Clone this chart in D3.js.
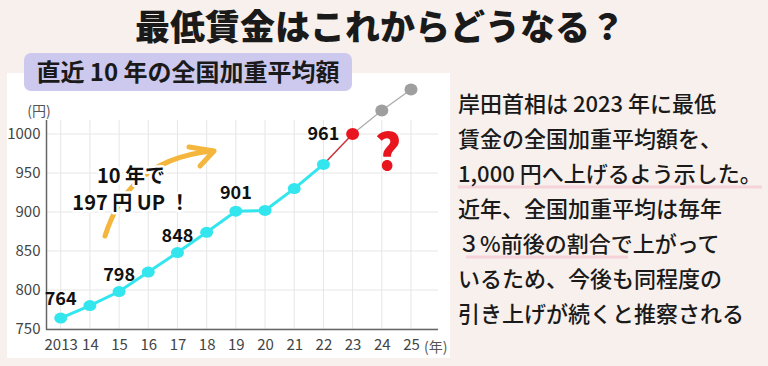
<!DOCTYPE html>
<html><head><meta charset="utf-8">
<script src="https://cdn.jsdelivr.net/npm/d3@7"></script>
<style>
body{margin:0;background:#f8f0ec;}
svg{display:block;}
text{font-family:"Noto Sans CJK JP","Noto Sans",sans-serif;}
</style>
</head><body>
<svg id="c" width="768" height="366"></svg>
<script>
// ---- data ----
const years = [2013,2014,2015,2016,2017,2018,2019,2020,2021,2022];
const wages = [764,780,798,823,848,874,901,902,930,961];
const targetYears = [2022,2023];
const targetWages = [961,1000];
const forecastYears = [2023,2024,2025];
const forecastWages = [1000,1030,1057];
const xTicks = [2013,2014,2015,2016,2017,2018,2019,2020,2021,2022,2023,2024,2025];
const xTickLabels = ["2013","14","15","16","17","18","19","20","21","22","23","24","25"];
const yTicks = [750,800,850,900,950,1000];
const labeledYears = [2013,2015,2017,2019,2022];
const title = "最低賃金はこれからどうなる？";
const subtitle = "直近 10 年の全国加重平均額";
const noteLines = ["10 年で","197 円 UP ！"];
const bodyLines = [
  "岸田首相は 2023 年に最低",
  "賃金の全国加重平均額を、",
  "1,000 円へ上げるよう示した。",
  "近年、全国加重平均は毎年",
  "３%前後の割合で上がって",
  "いるため、今後も同程度の",
  "引き上げが続くと推察される"
];

const svg = d3.select("#c");
const x = d3.scaleLinear().domain([2013,2025]).range([60.7,411]);
const y = d3.scaleLinear().domain([750,1000]).range([329,134]);

// background
svg.append("rect").attr("width",768).attr("height",366).attr("fill","#f8f0ec");

// title
svg.append("text").attr("x",380).attr("y",40).attr("text-anchor","middle")
  .attr("font-size",35).attr("font-weight",900).attr("fill","#1a1a1a").text(title);

// chart panel
svg.append("rect").attr("x",7).attr("y",73).attr("width",443).attr("height",285).attr("fill","#ffffff");

// subtitle box
svg.append("rect").attr("x",24).attr("y",53).attr("width",328).attr("height",38).attr("rx",7)
  .attr("fill","#cdc9ee");
svg.append("text").attr("x",188).attr("y",81).attr("text-anchor","middle")
  .attr("font-size",24).attr("font-weight",700).attr("fill","#1a1a1a").text(subtitle);

// grid
const g = svg.append("g");
g.selectAll("line.v").data(xTicks).join("line").attr("class","v")
  .attr("x1",d=>x(d)).attr("x2",d=>x(d)).attr("y1",120).attr("y2",329)
  .attr("stroke","#e6e6e6").attr("stroke-width",1);
g.selectAll("line.h").data(yTicks).join("line").attr("class","h")
  .attr("x1",46).attr("x2",438).attr("y1",d=>y(d)).attr("y2",d=>y(d))
  .attr("stroke","#e6e6e6").attr("stroke-width",1);

// axes
const yAxis = d3.axisLeft(y).tickValues(yTicks).tickSize(0).tickPadding(6).tickFormat(d3.format("d"));
const yg = svg.append("g").attr("transform","translate(46.5,0)").call(yAxis);
yg.select(".domain").remove();
yg.selectAll("text").attr("font-size",15).attr("fill","#444")
  .style("font-family","'Noto Sans CJK JP','Noto Sans',sans-serif");
const xAxis = d3.axisBottom(x).tickValues(xTicks).tickSize(0).tickPadding(10)
  .tickFormat((d,i)=>xTickLabels[i]);
const xg = svg.append("g").attr("transform","translate(0,329)").call(xAxis);
xg.select(".domain").remove();
xg.selectAll("text").attr("font-size",15).attr("fill","#444")
  .style("font-family","'Noto Sans CJK JP','Noto Sans',sans-serif");

svg.append("line").attr("x1",46.5).attr("x2",46.5).attr("y1",120).attr("y2",329.5)
  .attr("stroke","#666").attr("stroke-width",1.5);
svg.append("line").attr("x1",46).attr("x2",438).attr("y1",329.5).attr("y2",329.5)
  .attr("stroke","#666").attr("stroke-width",1.5);

svg.append("text").attr("x",39).attr("y",116).attr("text-anchor","middle")
  .attr("font-size",14).attr("fill","#555").text("(円)");
svg.append("text").attr("x",424).attr("y",352).attr("text-anchor","start")
  .attr("font-size",14).attr("fill","#555").text("(年)");

// orange arrow
const arrow = svg.append("g").attr("fill","none").attr("stroke","#f4b63c")
  .attr("stroke-width",5).attr("stroke-linecap","round");
arrow.append("path").attr("d","M105,236 C118,195 145,158 212,151");
arrow.append("path").attr("d","M189,147 L214,151 L200,166").attr("stroke-linejoin","round");

// note text with white halo
svg.append("g").selectAll("text").data(noteLines).join("text")
  .attr("x",131).attr("y",(d,i)=>183+i*27).attr("text-anchor","middle")
  .attr("font-size",20).attr("font-weight",700).attr("fill","#111")
  .attr("stroke","#fff").attr("stroke-width",5).attr("paint-order","stroke")
  .attr("stroke-linejoin","round").text(d=>d);

// lines
const line = d3.line().x(d=>x(d[0])).y(d=>y(d[1]));
svg.append("path").datum(forecastYears.map((d,i)=>[d,forecastWages[i]]))
  .attr("d",line).attr("fill","none").attr("stroke","#aaa").attr("stroke-width",1.2);
svg.append("path").datum(targetYears.map((d,i)=>[d,targetWages[i]]))
  .attr("d",line).attr("fill","none").attr("stroke","#c8323a").attr("stroke-width",1.5);
svg.append("path").datum(years.map((d,i)=>[d,wages[i]]))
  .attr("d",line).attr("fill","none").attr("stroke","#33e6ee").attr("stroke-width",3);

// points
svg.selectAll("ellipse.f").data(forecastYears.slice(1)).join("ellipse").attr("class","f")
  .attr("cx",d=>x(d)).attr("cy",(d,i)=>y(forecastWages[i+1])).attr("rx",6.5).attr("ry",6)
  .attr("fill","#9f9f9f");
svg.append("ellipse").attr("cx",x(targetYears[1])).attr("cy",y(targetWages[1]))
  .attr("rx",6.5).attr("ry",6).attr("fill","#e8141e");
svg.selectAll("ellipse.w").data(years).join("ellipse").attr("class","w")
  .attr("cx",d=>x(d)).attr("cy",(d,i)=>y(wages[i])).attr("rx",6.5).attr("ry",5.5)
  .attr("fill","#33e6ee");

// data labels
const lblOff = {2013:-13,2015:-11,2017:-11,2019:-12,2022:-24};
svg.selectAll("text.lbl").data(labeledYears).join("text").attr("class","lbl")
  .attr("x",d=>x(d)).attr("y",d=>y(wages[years.indexOf(d)])+lblOff[d])
  .attr("text-anchor","middle").attr("font-size",18).attr("font-weight",700).attr("fill","#111")
  .text(d=>wages[years.indexOf(d)]);

// question mark
svg.append("text").attr("x",388).attr("y",170).attr("text-anchor","middle")
  .attr("font-size",50).attr("font-weight",900).attr("fill","#e8141e").text("?");

// body text underlines
svg.append("line").attr("x1",458).attr("x2",762).attr("y1",187).attr("y2",187)
  .attr("stroke","#f6d3da").attr("stroke-width",3);
svg.append("line").attr("x1",466).attr("x2",628).attr("y1",257).attr("y2",257)
  .attr("stroke","#f6d3da").attr("stroke-width",3);

svg.append("g").selectAll("text").data(bodyLines).join("text")
  .attr("x",458).attr("y",(d,i)=>112+i*35).attr("font-size",22).attr("font-weight",500)
  .attr("fill","#1a1a1a").text(d=>d);
</script>
</body></html>
